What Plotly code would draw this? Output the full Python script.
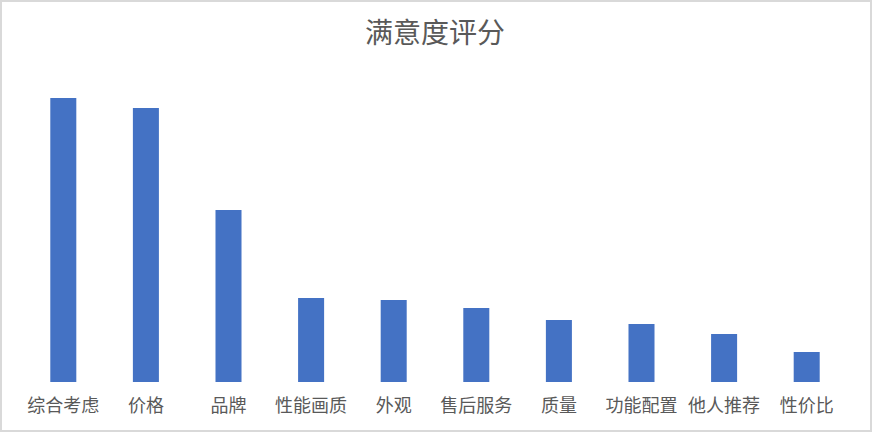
import plotly.graph_objects as go

categories = ["综合考虑", "价格", "品牌", "性能画质", "外观", "售后服务", "质量", "功能配置", "他人推荐", "性价比"]
scores = [28.4, 27.4, 17.2, 8.4, 8.2, 7.4, 6.2, 5.8, 4.8, 3.0]
title_text = "满意度评分"

W, H = 872, 432
ml, mr, mt, mb = 22, 24, 82, 50
pw, ph = W - ml - mr, H - mt - mb

fig = go.Figure(go.Bar(x=categories, y=scores, marker=dict(color="#4472C4", line=dict(width=0)),
                       hoverinfo="skip"))

fig.update_layout(
    width=W, height=H,
    margin=dict(l=ml, r=mr, t=mt, b=mb, pad=0),
    paper_bgcolor="white", plot_bgcolor="white",
    bargap=0.685,
    showlegend=False,
    font=dict(family="Noto Sans CJK SC", color="#595959"),
    title=dict(text=title_text, x=0.5, xref="paper", xanchor="center",
               y=1 - 33 / H, yref="container", yanchor="middle",
               font=dict(size=28, color="#595959", family="Noto Sans CJK SC")),
    xaxis=dict(showgrid=False, showline=False, ticks="", zeroline=False,
               tickfont=dict(size=18, color="#595959"), ticklabelstandoff=11),
    yaxis=dict(range=[0, 30], visible=False, showgrid=False),
    shapes=[dict(type="rect", xref="paper", yref="paper",
                 x0=(1 - ml) / pw, x1=(W - ml - 1) / pw,
                 y0=-(mb - 1) / ph, y1=(H - mb - 1) / ph,
                 line=dict(color="#D9D9D9", width=2), fillcolor="rgba(0,0,0,0)")],
)

fig.write_html("out.html", config={"displayModeBar": False},
               post_script="document.body.style.margin='0';document.body.style.overflow='hidden';")
